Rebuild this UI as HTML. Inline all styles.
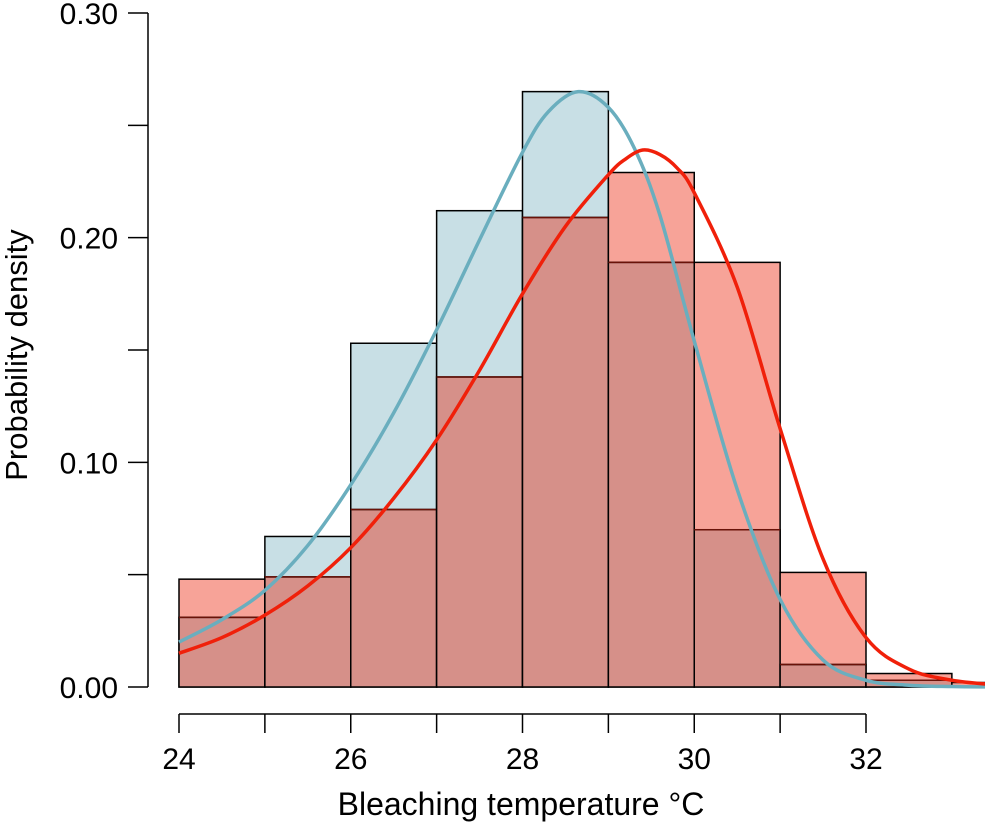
<!DOCTYPE html>
<html><head><meta charset="utf-8"><style>
html,body{margin:0;padding:0;background:#fff;}
svg{display:block;font-family:"Liberation Sans",Arial,sans-serif;}
</style></head><body>
<svg id="chart" width="985" height="824" viewBox="0 0 985 824"></svg>
<script>
const binStarts=[24,25,26,27,28,29,30,31,32,33];
const blueVals=[0.031,0.067,0.153,0.212,0.265,0.189,0.070,0.010,0.003,0];
const redVals=[0.048,0.049,0.079,0.138,0.209,0.229,0.189,0.051,0.006,0.002];
const blueCurveX=[24,24.5,25,25.5,26,26.5,27,27.5,28,28.3,28.65,29,29.3,29.6,30,30.5,31,31.5,32,32.5,33,33.5];
const blueCurveY=[0.020,0.030,0.043,0.063,0.090,0.122,0.159,0.199,0.238,0.256,0.265,0.258,0.240,0.210,0.154,0.088,0.039,0.012,0.003,0.0008,0.0002,0];
const redCurveX=[24,24.5,25,25.5,26,26.5,27,27.5,28,28.5,29,29.2,29.4,29.6,29.8,30,30.5,31,31.5,32,32.5,33,33.5];
const redCurveY=[0.015,0.022,0.032,0.045,0.062,0.084,0.110,0.141,0.175,0.205,0.228,0.235,0.239,0.237,0.231,0.220,0.178,0.115,0.057,0.022,0.008,0.003,0.001];
const xTicks=[24,25,26,27,28,29,30,31,32];
const xLabels=[24,26,28,30,32];
const yTicks=[0,0.05,0.1,0.15,0.2,0.25,0.3];
const yLabels=["0.00","0.10","0.20","0.30"];
const yLabelVals=[0,0.1,0.2,0.3];

const NS="http://www.w3.org/2000/svg";
const svg=document.getElementById('chart');
const X=v=>179+(v-24)*85.875;
const Y=v=>687-v*2246.7;
function mk(t,a,p){const e=document.createElementNS(NS,t);for(const k in a)e.setAttribute(k,a[k]);(p||svg).appendChild(e);return e;}

const gb=mk('g',{});


binStarts.forEach((b,i)=>{
  const bv=blueVals[i],rv=redVals[i];
  const hi=Math.max(bv,rv),lo=Math.min(bv,rv);
  const x0=X(b),w=X(b+1)-X(b);
  if(hi>0){
    const r=mk('rect',{x:x0,y:Y(hi),width:w,height:Y(0)-Y(hi),fill:bv>rv?'#c8dfe5':'#f7a398',stroke:'#000','stroke-width':1.5},gb);
    
    
  }
  if(lo>0){
    const r=mk('rect',{x:x0,y:Y(lo),width:w,height:Y(0)-Y(lo),fill:'#d69089',stroke:'#000','stroke-width':1.5},gb);
    
    
    mk('line',{x1:x0,x2:x0+w,y1:Y(lo),y2:Y(lo),stroke:'#6a1208','stroke-width':1.5},gb);
  }
});

function smooth(xs,ys){
  const p=xs.map((x,i)=>[X(x),Y(ys[i])]);
  let d='M'+p[0][0]+','+p[0][1];
  for(let i=0;i<p.length-1;i++){
    const p0=p[Math.max(0,i-1)],p1=p[i],p2=p[i+1],p3=p[Math.min(p.length-1,i+2)];
    const c1=[p1[0]+(p2[0]-p0[0])/6,p1[1]+(p2[1]-p0[1])/6];
    const c2=[p2[0]-(p3[0]-p1[0])/6,p2[1]-(p3[1]-p1[1])/6];
    d+=` C${c1[0]},${c1[1]} ${c2[0]},${c2[1]} ${p2[0]},${p2[1]}`;
  }
  return d;
}
const cp=mk('clipPath',{id:'cl'});mk('rect',{x:0,y:0,width:985,height:700},cp);
const bc=mk('path',{d:smooth(blueCurveX,blueCurveY),fill:'none',stroke:'#6aaebe','stroke-width':3.5,'clip-path':'url(#cl)'});


const rc=mk('path',{d:smooth(redCurveX,redCurveY),fill:'none',stroke:'#f0200a','stroke-width':3.5,'clip-path':'url(#cl)'});



// y axis
const ya=mk('g',{});


mk('line',{x1:148,x2:148,y1:Y(0.3),y2:Y(0),stroke:'#000','stroke-width':1.5},ya);
yTicks.forEach(t=>mk('line',{x1:128,x2:148,y1:Y(t),y2:Y(t),stroke:'#000','stroke-width':1.5},ya));
yLabelVals.forEach((t,i)=>{const e=mk('text',{x:118,y:Y(t)+11,'text-anchor':'end','font-size':30},ya);e.textContent=yLabels[i];

});
const yt=mk('text',{x:0,y:0,transform:'translate(27,355) rotate(-90)','text-anchor':'middle','font-size':31});
yt.textContent='Probability density';



// x axis
const xa=mk('g',{});


mk('line',{x1:X(24),x2:X(32),y1:714,y2:714,stroke:'#000','stroke-width':1.5},xa);
xTicks.forEach(t=>mk('line',{x1:X(t),x2:X(t),y1:714,y2:733,stroke:'#000','stroke-width':1.5},xa));
xLabels.forEach(t=>{const e=mk('text',{x:X(t),y:769,'text-anchor':'middle','font-size':30},xa);e.textContent=t;

});
const xt=mk('text',{x:521,y:815,'text-anchor':'middle','font-size':32});
xt.textContent='Bleaching temperature °C';


</script>
</body></html>
